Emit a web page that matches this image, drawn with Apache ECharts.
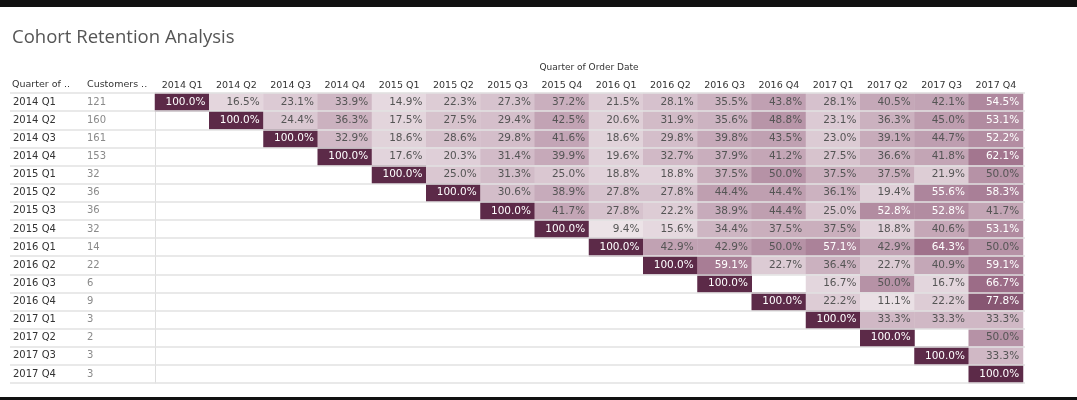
<!DOCTYPE html>
<html>
<head>
<meta charset="utf-8">
<script src="https://cdn.jsdelivr.net/npm/echarts@6/dist/echarts.min.js"></script>
<style>
  html, body { margin: 0; padding: 0; background: #111; }
  #wrap { position: absolute; left: 0; top: 0; width: 1077px; height: 400px; box-sizing: border-box; border-top: 7px solid #111; border-bottom: 3px solid #111; background: #fff; }
  #chart { width: 1077px; height: 390px; }
</style>
</head>
<body>
<div id="wrap"><div id="chart"></div></div>
<script>
const quarters = ['2014 Q1','2014 Q2','2014 Q3','2014 Q4','2015 Q1','2015 Q2','2015 Q3','2015 Q4','2016 Q1','2016 Q2','2016 Q3','2016 Q4','2017 Q1','2017 Q2','2017 Q3','2017 Q4'];
const cohorts = ['2014 Q1','2014 Q2','2014 Q3','2014 Q4','2015 Q1','2015 Q2','2015 Q3','2015 Q4','2016 Q1','2016 Q2','2016 Q3','2016 Q4','2017 Q1','2017 Q2','2017 Q3','2017 Q4'];
const customers = [121,160,161,153,32,36,36,32,14,22,6,9,3,2,3,3];
const n = null;
const retention = [
  [100.0,16.5,23.1,33.9,14.9,22.3,27.3,37.2,21.5,28.1,35.5,43.8,28.1,40.5,42.1,54.5],
  [n,100.0,24.4,36.3,17.5,27.5,29.4,42.5,20.6,31.9,35.6,48.8,23.1,36.3,45.0,53.1],
  [n,n,100.0,32.9,18.6,28.6,29.8,41.6,18.6,29.8,39.8,43.5,23.0,39.1,44.7,52.2],
  [n,n,n,100.0,17.6,20.3,31.4,39.9,19.6,32.7,37.9,41.2,27.5,36.6,41.8,62.1],
  [n,n,n,n,100.0,25.0,31.3,25.0,18.8,18.8,37.5,50.0,37.5,37.5,21.9,50.0],
  [n,n,n,n,n,100.0,30.6,38.9,27.8,27.8,44.4,44.4,36.1,19.4,55.6,58.3],
  [n,n,n,n,n,n,100.0,41.7,27.8,22.2,38.9,44.4,25.0,52.8,52.8,41.7],
  [n,n,n,n,n,n,n,100.0,9.4,15.6,34.4,37.5,37.5,18.8,40.6,53.1],
  [n,n,n,n,n,n,n,n,100.0,42.9,42.9,50.0,57.1,42.9,64.3,50.0],
  [n,n,n,n,n,n,n,n,n,100.0,59.1,22.7,36.4,22.7,40.9,59.1],
  [n,n,n,n,n,n,n,n,n,n,100.0,n,16.7,50.0,16.7,66.7],
  [n,n,n,n,n,n,n,n,n,n,n,100.0,22.2,11.1,22.2,77.8],
  [n,n,n,n,n,n,n,n,n,n,n,n,100.0,33.3,33.3,33.3],
  [n,n,n,n,n,n,n,n,n,n,n,n,n,100.0,n,50.0],
  [n,n,n,n,n,n,n,n,n,n,n,n,n,n,100.0,33.3],
  [n,n,n,n,n,n,n,n,n,n,n,n,n,n,n,100.0]
];

const FONT = 'DejaVu Sans';
const cells = [];
retention.forEach((row, yi) => {
  row.forEach((v, xi) => {
    if (v === null) return;
    cells.push({
      value: [xi, yi, v],
      label: { color: v > 51 ? '#ffffff' : '#555555' }
    });
  });
});

const chart = echarts.init(document.getElementById('chart'), null, { renderer: 'canvas' });
chart.setOption({
  backgroundColor: '#ffffff',
  animation: false,
  title: [
    { text: 'Cohort Retention Analysis', left: 12, top: 21, padding: 0,
      textStyle: { fontFamily: 'Open Sans', fontSize: 18.5, fontWeight: 'normal', color: '#555555' } },
    { text: 'Quarter of ..', left: 12, top: 73, padding: 0,
      textStyle: { fontFamily: FONT, fontSize: 9.5, fontWeight: 'normal', color: '#333333' } },
    { text: 'Customers ..', left: 87, top: 73, padding: 0,
      textStyle: { fontFamily: FONT, fontSize: 9.5, fontWeight: 'normal', color: '#333333' } }
  ],
  grid: [
    { left: 155, right: 54, top: 86, height: 290 },
    { left: 10, right: 52, top: 86, height: 290, z: 10 }
  ],
  xAxis: [
    { type: 'category', gridIndex: 0, data: quarters, position: 'top',
      name: 'Quarter of Order Date', nameLocation: 'middle', nameGap: 21,
      nameTextStyle: { fontFamily: FONT, fontSize: 9, color: '#333333' },
      axisLine: { show: false }, axisTick: { show: false },
      axisLabel: { fontFamily: FONT, fontSize: 9.5, color: '#333333', margin: 2 },
      splitLine: { show: false } },
    { type: 'value', gridIndex: 1, show: false, min: 0, max: 1 }
  ],
  yAxis: [
    { type: 'category', gridIndex: 0, data: cohorts, inverse: true,
      axisLine: { show: true, lineStyle: { color: '#dddddd', width: 1 } },
      axisTick: { show: false },
      splitLine: { show: false },
      axisLabel: {
        margin: 142, align: 'left',
        formatter: (val, idx) => '{q|' + val + '}{c|' + customers[idx] + '}',
        rich: {
          q: { fontFamily: FONT, fontSize: 10, color: '#333333', width: 74 },
          c: { fontFamily: FONT, fontSize: 10, color: '#8a8a8a' }
        }
      } },
    { type: 'category', gridIndex: 1, data: cohorts, inverse: true, z: 10,
      axisLine: { show: false }, axisTick: { show: false }, axisLabel: { show: false },
      splitLine: { show: true, lineStyle: { color: '#e2e2e2', width: 1.5 } } }
  ],
  visualMap: {
    show: false, type: 'continuous', dimension: 2, seriesIndex: 0,
    min: 0, max: 100,
    inRange: { color: ['#f7f4f5', '#d0b8c5', '#9c6c87', '#5c2a48'] }
  },
  series: [{
    type: 'heatmap', xAxisIndex: 0, yAxisIndex: 0,
    data: cells,
    label: {
      show: true, position: 'insideRight', distance: 4,
      fontFamily: FONT, fontSize: 10.5,
      formatter: p => p.value[2].toFixed(1) + '%'
    },
    itemStyle: { borderWidth: 0 },
    emphasis: { disabled: true }
  }]
});
</script>
</body>
</html>
